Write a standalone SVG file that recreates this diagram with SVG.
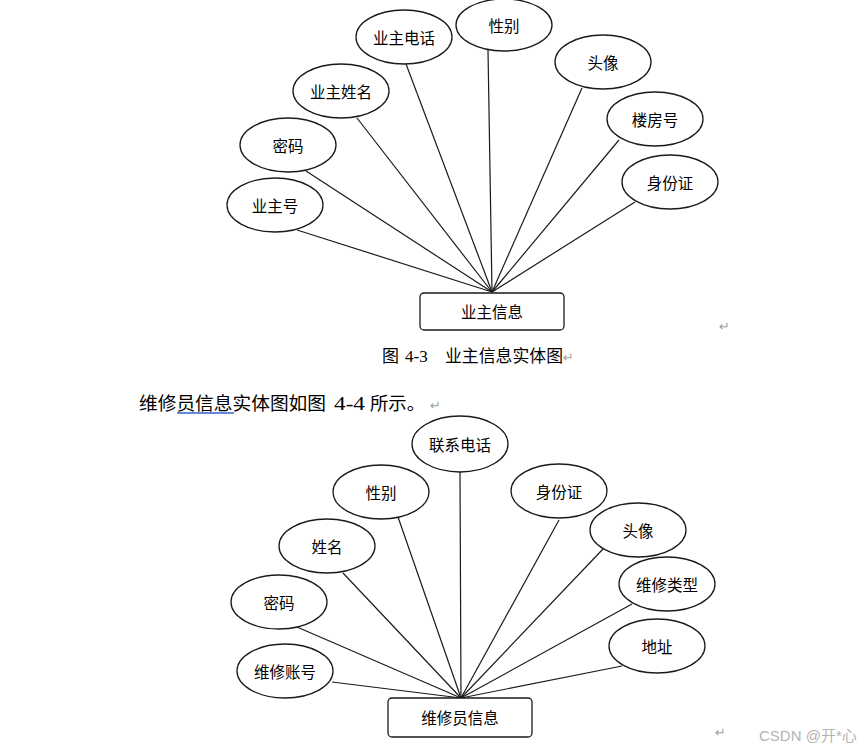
<svg xmlns="http://www.w3.org/2000/svg" width="868" height="749" viewBox="0 0 868 749">
<style>
.bg{fill:#ffffff}
.attr ellipse{fill:#ffffff;stroke:#1a1a1a;stroke-width:1.3}
.ent rect{fill:#ffffff;stroke:#1a1a1a;stroke-width:1.3}
.lbl{font-family:"Noto Sans CJK SC","Liberation Sans",sans-serif;font-size:15.5px;fill:#000;text-anchor:middle;dominant-baseline:central}
.conn line{stroke:#1a1a1a;stroke-width:1.2}
.doc{font-family:"Liberation Serif","Noto Sans CJK SC",serif;font-size:17px;fill:#000}
.body{font-family:"Liberation Serif","Noto Sans CJK SC",serif;font-size:18px;fill:#000}
.ret{font-family:"DejaVu Sans",sans-serif;font-size:13px;fill:#a0a0a0}
.wm{font-family:"Liberation Sans","Noto Sans CJK SC",sans-serif;font-size:15px;fill:#b4b4b4}
</style>
<rect class="bg" x="0" y="0" width="868" height="749"/>

<!-- Figure 4-3 connectors -->
<g id="connectors-owner" class="conn">
<line x1="297" y1="230" x2="492" y2="292"/>
<line x1="306" y1="171" x2="492" y2="292"/>
<line x1="357" y1="118" x2="492" y2="292"/>
<line x1="406" y1="64" x2="492" y2="292"/>
<line x1="488" y1="50" x2="492" y2="292"/>
<line x1="582" y1="88" x2="492" y2="292"/>
<line x1="619" y1="140" x2="492" y2="292"/>
<line x1="635" y1="202" x2="492" y2="292"/>
</g>

<g id="owner-phone" class="attr"><ellipse cx="404" cy="37" rx="48" ry="27"/><text class="lbl" x="404" y="37">业主电话</text></g>
<g id="owner-gender" class="attr"><ellipse cx="504" cy="25" rx="48" ry="26"/><text class="lbl" x="504" y="25">性别</text></g>
<g id="owner-name" class="attr"><ellipse cx="341" cy="91" rx="48" ry="27"/><text class="lbl" x="341" y="91">业主姓名</text></g>
<g id="owner-pwd" class="attr"><ellipse cx="288" cy="145" rx="48" ry="27"/><text class="lbl" x="288" y="145">密码</text></g>
<g id="owner-id" class="attr"><ellipse cx="275" cy="205" rx="48" ry="27"/><text class="lbl" x="275" y="205">业主号</text></g>
<g id="owner-avatar" class="attr"><ellipse cx="603" cy="62" rx="48" ry="27"/><text class="lbl" x="603" y="62">头像</text></g>
<g id="owner-room" class="attr"><ellipse cx="655" cy="119" rx="48" ry="27"/><text class="lbl" x="655" y="119">楼房号</text></g>
<g id="owner-idcard" class="attr"><ellipse cx="670" cy="182" rx="48" ry="27"/><text class="lbl" x="670" y="182">身份证</text></g>
<g id="owner-info" class="ent"><rect x="420" y="293" width="144" height="37" rx="4"/><text class="lbl" x="492" y="311">业主信息</text></g>

<text class="ret" x="719" y="331">↵</text>

<text class="doc" x="382" y="362">图</text>
<text class="doc" x="405" y="362">4-3</text>
<text class="doc" x="445" y="362" textLength="118" lengthAdjust="spacingAndGlyphs">业主信息实体图</text>
<text class="ret" x="563" y="362">↵</text>

<text class="body" x="139" y="410" textLength="187" lengthAdjust="spacingAndGlyphs">维修员信息实体图如图</text>
<text class="body" x="334" y="410" textLength="31" lengthAdjust="spacingAndGlyphs">4-4</text>
<text class="body" x="370" y="410" textLength="55" lengthAdjust="spacingAndGlyphs">所示。</text>
<line x1="177" y1="413" x2="234" y2="413" stroke="#3060d0" stroke-width="1.3"/>
<text class="ret" x="430" y="410">↵</text>

<!-- Figure 4-4 connectors -->
<g id="connectors-repair" class="conn">
<line x1="332" y1="682" x2="461" y2="698"/>
<line x1="297" y1="627" x2="461" y2="698"/>
<line x1="343" y1="573" x2="461" y2="698"/>
<line x1="398" y1="517" x2="461" y2="698"/>
<line x1="460" y1="472" x2="461" y2="698"/>
<line x1="559" y1="520" x2="461" y2="698"/>
<line x1="603" y1="549" x2="461" y2="698"/>
<line x1="632" y1="604" x2="461" y2="698"/>
<line x1="622" y1="666" x2="461" y2="698"/>
</g>

<g id="rep-phone" class="attr"><ellipse cx="460" cy="444" rx="48" ry="28"/><text class="lbl" x="460" y="444">联系电话</text></g>
<g id="rep-gender" class="attr"><ellipse cx="381" cy="492" rx="48" ry="27"/><text class="lbl" x="381" y="492">性别</text></g>
<g id="rep-name" class="attr"><ellipse cx="327" cy="546" rx="48" ry="27"/><text class="lbl" x="327" y="546">姓名</text></g>
<g id="rep-pwd" class="attr"><ellipse cx="279" cy="602" rx="48" ry="27"/><text class="lbl" x="279" y="602">密码</text></g>
<g id="rep-account" class="attr"><ellipse cx="285" cy="671" rx="48" ry="27"/><text class="lbl" x="285" y="671">维修账号</text></g>
<g id="rep-idcard" class="attr"><ellipse cx="559" cy="491" rx="48" ry="27"/><text class="lbl" x="559" y="491">身份证</text></g>
<g id="rep-avatar" class="attr"><ellipse cx="638" cy="530" rx="48" ry="27"/><text class="lbl" x="638" y="530">头像</text></g>
<g id="rep-type" class="attr"><ellipse cx="667" cy="584" rx="48" ry="27"/><text class="lbl" x="667" y="584">维修类型</text></g>
<g id="rep-addr" class="attr"><ellipse cx="657" cy="646" rx="48" ry="27"/><text class="lbl" x="657" y="646">地址</text></g>
<g id="repair-info" class="ent"><rect x="388" y="698" width="144" height="39" rx="4"/><text class="lbl" x="460" y="717">维修员信息</text></g>

<text class="ret" x="715" y="737">↵</text>
<text class="wm" x="759" y="741">CSDN @开*心</text>
</svg>
